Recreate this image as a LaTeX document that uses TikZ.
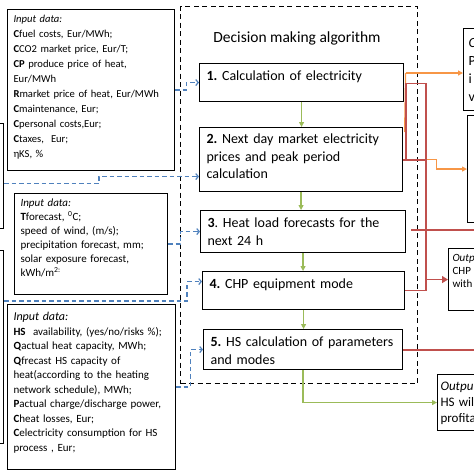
\documentclass[tikz,border=0pt]{standalone}
\usepackage{fontspec}
\setmainfont{Carlito}
\usetikzlibrary{arrows.meta,positioning,calc}

\definecolor{offblue}{RGB}{79,129,189}
\definecolor{offorange}{RGB}{247,150,70}
\definecolor{offred}{RGB}{192,80,77}
\definecolor{offgreen}{RGB}{155,187,89}

\begin{document}
\frenchspacing
\begin{tikzpicture}[x=1pt,y=-1pt,
  inbox/.style={draw,line width=1.1pt,anchor=north west,align=left,inner xsep=6pt,inner ysep=4pt,font=\fontsize{10.6}{15}\selectfont},
  stepbox/.style={draw,line width=1.1pt,anchor=north west,align=left,inner xsep=7pt,inner ysep=4pt,text height=13pt,font=\fontsize{14}{17.5}\selectfont},
  outbox/.style={draw,line width=1.1pt,anchor=north west,align=left,minimum width=80pt},
  algframe/.style={draw,line width=1.2pt,dash pattern=on 5pt off 3.5pt,anchor=north west},
  feed/.style={draw=offblue,line width=1.2pt,dash pattern=on 4.5pt off 3pt,-{Straight Barb[length=2.5pt,width=6pt]}},
  flow/.style={line width=1.2pt,-{Triangle[length=5pt,width=5pt]}},
  redline/.style={line width=1.5pt,draw=offred}]

  \useasboundingbox (0,0) rectangle (474,474);

  \node[algframe,minimum width=237pt,minimum height=377pt] (alg) at (180,6) {};
  \node[font=\fontsize{15.5}{18}\selectfont] (algtitle) at (297,38) {Decision making algorithm};

  \node[inbox,anchor=north east,minimum width=60pt,minimum height=105pt] (inP1) at (4,123) {};
  \node[inbox,anchor=north east,minimum width=60pt,minimum height=193pt] (inP2) at (4,250) {};

  \node[inbox,text width=155pt,text height=9pt,text depth=144pt] (inA) at (7,9)
    {\textit{Input data:}\\ \textbf{C}fuel costs, Eur/MWh;\\ \textbf{C}CO2 market price, Eur/T;\\
     \textbf{CP} produce price of heat,\\ Eur/MWh\\ \textbf{R}market price of heat, Eur/MWh\\
     \textbf{C}maintenance, Eur;\\ \textbf{C}personal costs,Eur;\\ \textbf{C}taxes,~ Eur;\\ ηKS, \%};
  \node[inbox,text width=141pt,text height=9pt,text depth=84pt,font=\fontsize{11}{14}\selectfont] (inB) at (14,193)
    {\textit{Input data:}\\ \textbf{T}forecast, \textsuperscript{0}C;\\ speed of wind, (m/s);\\
     precipitation forecast, mm;\\ solar exposure forecast,\\ kWh/m\textsuperscript{2:}};
  \node[inbox,text width=156pt,text height=12pt,text depth=145pt,font=\fontsize{11}{14.5}\selectfont] (inC) at (7,304)
    {{\fontsize{12}{14.5}\selectfont\itshape Input data:}\\ \textbf{HS}~ availability, (yes/no/risks \%);\\
     \textbf{Q}actual heat capacity, MWh;\\ \textbf{Q}frecast HS capacity of\\ heat(according to the heating\\
     network schedule), MWh;\\ \textbf{P}actual charge/discharge power,\\ \textbf{C}heat losses, Eur;\\
     \textbf{C}electricity consumption for HS\\ process , Eur;};

  \node[stepbox,text width=190pt,text depth=17pt] (s1) at (199,63) {\textbf{1.} Calculation of electricity};
  \node[stepbox,text width=189pt,text height=12pt,text depth=44pt] (s2) at (199,127)
    {\mbox{\textbf{2.} Next day market electricity}\\ prices and peak period\\ calculation};
  \node[stepbox,text width=191pt,text depth=21pt] (s3) at (200,210) {\mbox{\textbf{3}. Heat load forecasts for the}\\ next 24 h};
  \node[stepbox,text width=188pt,text depth=17pt] (s4) at (202,271) {\textbf{4.} CHP equipment mode};
  \node[stepbox,text width=185pt,text depth=19pt] (s5) at (203,329) {\mbox{\textbf{5.} HS calculation of parameters}\\ and modes};

  \node[outbox,text width=70pt,inner xsep=5pt,inner ysep=6pt,text height=13pt,text depth=57pt,font=\fontsize{14}{18}\selectfont] (r1) at (463,28)
    {\textit{O}\\ P\\ i\\ v};
  \node[outbox,minimum height=107pt] (r2) at (467,115) {};
  \node[outbox,text width=72pt,inner xsep=4pt,inner ysep=4pt,text height=9pt,text depth=45pt,font=\fontsize{11}{13}\selectfont] (r3) at (448,248)
    {\textit{Outp}\\ CHP\\ with};
  \node[outbox,text width=74pt,inner xsep=3pt,inner ysep=4pt,text height=12pt,text depth=36pt,font=\fontsize{13}{16}\selectfont] (r4) at (437,374)
    {\textit{Outpu}\\ HS wil\\ profita};

  \coordinate (o1) at ($(s1.north east)+(1.5,10)$);
  \coordinate (rj) at (426,83.5);
  \coordinate (rim) at (480,0);

  \path[feed] (inA.east) -- ++(11,0) |- (s1.west);
  \path[feed] ($(inP1.east)+(0,7.5)$) -- ++(95,0) |- ($(s2.west)+(0,17)$);
  \path[feed] (inB.east) -- ++(12,0) |- (s3.west);
  \path[feed] ($(inP2.north east)+(0,51)$) -- ++(183,0) |- ($(s4.west)+(0,-9)$);
  \path[feed] (inC.east) -- ++(14,0) |- (s5.west);

  \path[flow,color=offgreen]
  (s1.south) edge (s1.south |- s2.north)
  (s2.south) edge (s2.south |- s3.north)
  (s3.south) edge (s3.south |- s4.north)
  (s4.south) edge (s4.south |- s5.north);
  \draw[flow,color=offgreen] (s5.south) |- (r4.west);

  \draw[flow,color=offorange] (o1) -- (o1 -| r1.west);
  \draw[line width=1.2pt,offorange] ($(s2.north east)+(1.5,5)$) -- (o1);
  \draw[flow,color=offorange] (s2.east) -- ++(33,0) |- (r2.west);

  \draw[redline] ($(s2.east)+(0,0.5)$) -- ++(3,0) |- (rj) |- (s4.east);
  \draw[redline] ($(s2.east)+(0,0.5)$) -- ($(s2.east -| rj)+(0,0.5)$);
  \draw[flow,color=offred,-{Triangle[length=6pt,width=7pt]}] (rj |- r3.west) -- (r3.west);
  \draw[redline] ($(s3.east)+(5,-1.5)$) -- ($(s3.east -| rim)+(0,-1.5)$);
  \draw[redline] ($(s5.east)+(0,0.5)$) -- ($(s5.east -| rim)+(0,0.5)$);
\end{tikzpicture}
\end{document}
